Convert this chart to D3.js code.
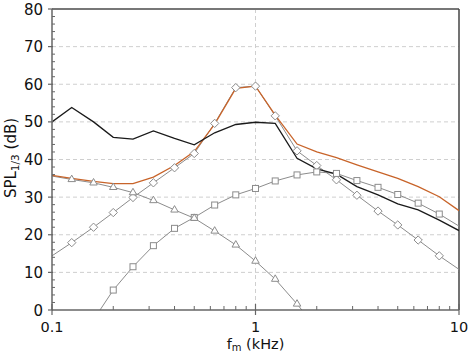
<!DOCTYPE html>
<html><head><meta charset="utf-8">
<script src="https://cdn.jsdelivr.net/npm/d3@7"></script>
<style>
html,body{margin:0;padding:0;background:#fff;}
svg text{font-family:"DejaVu Sans",Verdana,sans-serif;fill:#111;}
</style></head>
<body><svg id="c" width="474" height="355"></svg>
<script>
const freqs = [0.1,0.125,0.16,0.2,0.25,0.315,0.4,0.5,0.63,0.8,1,1.25,1.6,2,2.5,3.15,4,5,6.3,8,10];
const totalBlack = [50.0,53.8,50.0,45.9,45.4,47.6,45.6,43.9,47.1,49.3,49.9,49.6,40.3,37.5,36.1,32.8,30.6,28.2,26.6,23.9,21.1];
const totalOrange = [35.8,35.0,34.2,33.6,33.6,35.3,38.4,42.1,49.4,58.9,59.5,51.8,44.1,42.0,40.5,38.6,36.7,35.0,32.8,30.1,26.4];
const lowTri = [35.6,34.7,33.8,32.6,31.2,29.1,26.6,24.4,21.0,17.3,13.0,8.2,1.6,-5.0];
const midDiamond = [14.4,17.9,22.0,25.9,29.9,33.8,37.8,41.6,49.6,59.1,59.5,51.6,42.3,38.4,34.6,30.5,26.3,22.6,18.6,14.4,10.8];
const highSquare = [null,null,-2.6,5.3,11.5,17.1,21.7,24.6,27.9,30.6,32.3,34.3,35.9,36.7,36.3,34.4,32.6,30.7,28.4,25.5,22.3];
const yTicks = [0,10,20,30,40,50,60,70,80];
const xTickLabels = ["0.1","1","10"];

const svg = d3.select("#c");
const L=52,R=459,T=9,B=310;
const x = d3.scaleLog().domain([0.1,10]).range([L,R]);
const y = d3.scaleLinear().domain([0,80]).range([B,T]);

svg.append("defs").append("clipPath").attr("id","clip")
  .append("rect").attr("x",L).attr("y",T).attr("width",R-L).attr("height",B-T);

const g = svg.append("g");
g.selectAll("line.h").data(yTicks.filter(v=>v>0&&v<80)).enter().append("line")
  .attr("x1",L).attr("x2",R).attr("y1",d=>y(d)).attr("y2",d=>y(d))
  .attr("stroke","#cfcfcf").attr("stroke-width",1).attr("stroke-dasharray","4,3");
g.append("line").attr("x1",x(1)).attr("x2",x(1)).attr("y1",T).attr("y2",B)
  .attr("stroke","#cfcfcf").attr("stroke-width",1).attr("stroke-dasharray","4,3");

svg.append("line").attr("x1",L).attr("x2",R).attr("y1",T).attr("y2",T).attr("stroke","#777").attr("stroke-width",2);
svg.append("line").attr("x1",R).attr("x2",R).attr("y1",T).attr("y2",B).attr("stroke","#444").attr("stroke-width",1.5);

const plot = svg.append("g").attr("clip-path","url(#clip)");
function pts(vals){ return vals.map((v,i)=>[freqs[i],v]).filter(d=>d[1]!==null); }
const line = d3.line().x(d=>x(d[0])).y(d=>y(d[1]));
const gray="#8c8c8c";
plot.append("path").datum(pts(lowTri)).attr("d",line).attr("fill","none").attr("stroke",gray).attr("stroke-width",1);
plot.append("path").datum(pts(highSquare)).attr("d",line).attr("fill","none").attr("stroke",gray).attr("stroke-width",1);
plot.append("path").datum(pts(midDiamond)).attr("d",line).attr("fill","none").attr("stroke",gray).attr("stroke-width",1);
plot.append("path").datum(pts(totalOrange)).attr("d",line).attr("fill","none").attr("stroke","#c8642a").attr("stroke-width",1.3);
plot.append("path").datum(pts(totalBlack)).attr("d",line).attr("fill","none").attr("stroke","#1a1a1a").attr("stroke-width",1.3);

function interior(vals){ return pts(vals).filter(d=>d[0]>0.1&&d[0]<10&&d[1]>=0); }
const mk = svg.append("g");
mk.selectAll("path.d").data(interior(midDiamond)).enter().append("path")
  .attr("d",d3.symbol().type(d3.symbolDiamond2).size(44))
  .attr("transform",d=>`translate(${x(d[0])},${y(d[1])})`)
  .attr("fill","#fff").attr("stroke",gray).attr("stroke-width",1);
mk.selectAll("rect.s").data(interior(highSquare)).enter().append("rect")
  .attr("x",d=>x(d[0])-3).attr("y",d=>y(d[1])-3).attr("width",6).attr("height",6)
  .attr("fill","#fff").attr("stroke",gray).attr("stroke-width",1);
mk.selectAll("path.t").data(interior(lowTri)).enter().append("path")
  .attr("d",d3.symbol().type(d3.symbolTriangle2).size(40))
  .attr("transform",d=>`translate(${x(d[0])},${y(d[1])})`)
  .attr("fill","#fff").attr("stroke",gray).attr("stroke-width",1);

const ax = svg.append("g");
const axisColor="#666";
const yMinor = d3.range(0,81,2).filter(v=>v%10!==0);
ax.selectAll("line.ym").data(yMinor).enter().append("line")
  .attr("x1",L).attr("x2",L+3).attr("y1",d=>y(d)).attr("y2",d=>y(d)).attr("stroke",axisColor);
ax.selectAll("line.yM").data(yTicks).enter().append("line")
  .attr("x1",L-4).attr("x2",L+1).attr("y1",d=>y(d)).attr("y2",d=>y(d)).attr("stroke",axisColor).attr("stroke-width",1.2);
ax.selectAll("text.yl").data(yTicks).enter().append("text")
  .attr("x",L-9).attr("y",d=>y(d)+5.5).attr("text-anchor","end").attr("font-size",15).text(d=>d);
const xMinor=[];
[0.1,1].forEach(dec=>{for(let k=2;k<=9;k++) xMinor.push(dec*k);});
ax.selectAll("line.xm").data(xMinor).enter().append("line")
  .attr("x1",d=>x(d)).attr("x2",d=>x(d)).attr("y1",B).attr("y2",B-4).attr("stroke",axisColor);
ax.selectAll("line.xM").data([0.1,1,10]).enter().append("line")
  .attr("x1",d=>x(d)).attr("x2",d=>x(d)).attr("y1",B-6).attr("y2",B+5).attr("stroke",axisColor).attr("stroke-width",1.2);
ax.selectAll("text.xl").data(xTickLabels).enter().append("text")
  .attr("x",d=>x(+d)).attr("y",332).attr("text-anchor","middle").attr("font-size",14.5).text(d=>d);
ax.append("line").attr("x1",L).attr("x2",L).attr("y1",T).attr("y2",B).attr("stroke",axisColor).attr("stroke-width",1.5);
ax.append("line").attr("x1",L).attr("x2",R).attr("y1",B).attr("y2",B).attr("stroke",axisColor).attr("stroke-width",1.5);

const xt = svg.append("text").attr("x",x(1)).attr("y",349).attr("text-anchor","middle").attr("font-size",14.5);
xt.append("tspan").text("f");
xt.append("tspan").attr("font-size",10).attr("dy",2).text("m");
xt.append("tspan").attr("dy",-2).text(" (kHz)");
const yt = svg.append("text").attr("transform","translate(16,158) rotate(-90)").attr("text-anchor","middle").attr("font-size",15);
yt.append("tspan").text("SPL");
yt.append("tspan").attr("font-size",10.5).attr("dy",3).text("1/3");
yt.append("tspan").attr("dy",-3).text(" (dB)");
</script></body></html>
